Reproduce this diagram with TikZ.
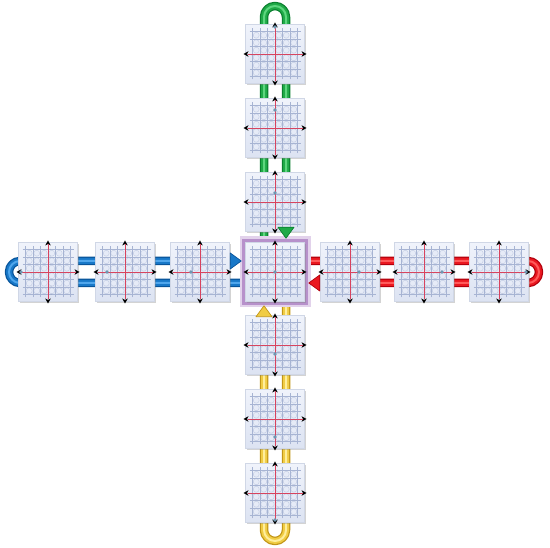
\documentclass[tikz,border=0pt]{standalone}
\usetikzlibrary{arrows.meta,calc,shadows}
\pgfdeclarelayer{bg}
\pgfsetlayers{bg,main}
\definecolor{tiletop}{HTML}{F0F3FB}
\definecolor{tilebot}{HTML}{DCE3F2}
\definecolor{tileedge}{HTML}{D0D7E6}
\definecolor{gridc}{HTML}{A7B4D3}
\definecolor{cellc}{HTML}{BCC7E0}
\definecolor{cellf}{HTML}{E6EBF7}
\definecolor{axisred}{HTML}{D8435E}
\definecolor{tickc}{HTML}{8C98B4}
\definecolor{ptc}{HTML}{6F97B2}
\definecolor{glowc}{HTML}{B791CB}
\definecolor{glowo}{HTML}{E2D2EB}
\definecolor{blueD}{HTML}{08549A}
\definecolor{blueM}{HTML}{1878C8}
\definecolor{blueL}{HTML}{4FA6EC}
\definecolor{redD}{HTML}{B2000C}
\definecolor{redM}{HTML}{EA1820}
\definecolor{redL}{HTML}{FF5A5A}
\definecolor{greenD}{HTML}{0B8030}
\definecolor{greenM}{HTML}{1FAA47}
\definecolor{greenL}{HTML}{5ED67F}
\definecolor{yelD}{HTML}{C29618}
\definecolor{yelM}{HTML}{F0CC44}
\definecolor{yelL}{HTML}{FFEE9C}
\tikzset{
  tilebox/.style={draw=tileedge, line width=0.5pt, minimum size=59pt, inner sep=0pt,
    top color=tiletop, bottom color=tilebot,
    drop shadow={opacity=0.35, shadow xshift=1.2pt, shadow yshift=-1.6pt}},
  gridl/.style={draw=gridc, line width=0.4pt},
  cellcirc/.style={draw=cellc, fill=cellf, line width=0.35pt},
  axisl/.style={draw=axisred, line width=0.75pt},
  axtip/.style={fill=black},
  ticklab/.style={text=tickc, font=\fontsize{2.2}{2.2}\selectfont, inner sep=0.5pt},
  pipebase/.style={line width=8.5pt, line cap=butt, line join=round},
  bluepipe/.style={pipebase, draw=blueD, postaction={draw=blueM, line width=6pt}, postaction={draw=blueL, line width=2pt}},
  redpipe/.style={pipebase, draw=redD, postaction={draw=redM, line width=6pt}, postaction={draw=redL, line width=2pt}},
  greenpipe/.style={pipebase, draw=greenD, postaction={draw=greenM, line width=6pt}, postaction={draw=greenL, line width=2pt}},
  yelpipe/.style={pipebase, draw=yelD, postaction={draw=yelM, line width=6pt}, postaction={draw=yelL, line width=2pt}},
  bluehead/.style={fill=blueM, draw=blueD, line width=0.7pt, line join=round},
  redhead/.style={fill=redM, draw=redD, line width=0.7pt, line join=round},
  greenhead/.style={fill=greenM, draw=greenD, line width=0.7pt, line join=round},
  yelhead/.style={fill=yelM, draw=yelD, line width=0.7pt, line join=round},
  pics/deco/.style args={#1/#2}{code={
    \foreach \i in {-18.75,-11.25,-3.75,3.75,11.25,18.75}{
      \foreach \j in {-18.75,-11.25,-3.75,3.75,11.25,18.75}{
        \draw[cellcirc] (\i,\j) circle[radius=3];
      }
    }
    \foreach \i in {-22.5,-15,-7.5,7.5,15,22.5}{
      \draw[gridl] (\i,-25.5) -- (\i,25.5);
      \draw[gridl] (-25.5,\i) -- (25.5,\i);
    }
    \foreach \a in {0,90,180,270}{
      \fill[axtip, rotate=\a] (31.5,0) -- (26.5,2.8) -- (28,0) -- (26.5,-2.8) -- cycle;
    }
  }},
  pics/ticks/.style={code={
    \foreach \i/\l in {-22.5/-3,-15/-2,-7.5/-1,7.5/1,15/2,22.5/3}{
      \node[ticklab, below] at (\i,-0.5) {\l};
      \node[ticklab, right] at (0.6,\i) {\l};
    }
  }}
}
\begin{document}
\begin{tikzpicture}[x=1pt,y=1pt]
\useasboundingbox (0,0) rectangle (550,548);
% center glow
\fill[glowo] (275,276) ++(-35.5,-35.5) rectangle ++(71,71);
\fill[glowc] (275,276) ++(-33,-33) rectangle ++(66,66);
% tiles
\node[tilebox] (c)  at (275,276) {};
\node[tilebox] (h1) at (48,276) {};
\node[tilebox] (h2) at (125,276) {};
\node[tilebox] (h3) at (200,276) {};
\node[tilebox] (h5) at (350,276) {};
\node[tilebox] (h6) at (424,276) {};
\node[tilebox] (h7) at (499,276) {};
\node[tilebox] (v1) at (275,494) {};
\node[tilebox] (v2) at (275,420) {};
\node[tilebox] (v3) at (275,346) {};
\node[tilebox] (v5) at (275,203) {};
\node[tilebox] (v6) at (275,129) {};
\node[tilebox] (v7) at (275,55) {};
% tile contents
\foreach \t in {c,h1,h2,h3,h5,h6,h7,v1,v2,v3,v5,v6,v7}{
  \pic at (\t) {deco={0/0}};
}
% axes (red), drawn in their own pass
\foreach \t in {c,h1,h2,h3,h5,h6,h7,v1,v2,v3,v5,v6,v7}{
  \draw[axisl] ($(\t.center)+(-27.5,0)$) -- ($(\t.center)+(27.5,0)$);
  \draw[axisl] ($(\t.center)+(0,-27.5)$) -- ($(\t.center)+(0,27.5)$);
}
% plotted points
\foreach \t/\dx/\dy in {c/0/0,h1/-27/0,h2/-18/0,h3/-9/0,h5/9/0,h6/18/0,h7/27/0,v1/0/27,v2/0/18,v3/0/9,v5/0/-9,v6/0/-18,v7/0/-27}{
  \fill[ptc] ($(\t.center)+(\dx,\dy)$) circle[radius=1.8];
}
% pipes
\begin{pgfonlayer}{bg}
\draw[bluepipe] ($(c.center)+(-20,-11)$) -- ($(h1.center)+(-28,-11)$) arc(270:90:11) -- ($(c.west)+(-14,11)$);
\draw[redpipe] ($(c.center)+(20,11)$) -- ($(h7.center)+(29,11)$) arc(90:-90:11) -- ($(c.east)+(14,-11)$);
\draw[greenpipe] ($(c.center)+(-11,20)$) -- ($(v1.center)+(-11,37)$) arc(180:0:11) -- ($(c.north)+(11,14)$);
\draw[yelpipe] ($(c.center)+(11,-20)$) -- ($(v7.center)+(11,-37)$) arc(0:-180:11) -- ($(c.south)+(-11,-14)$);
\end{pgfonlayer}
% arrow heads
\filldraw[bluehead] ($(c.west)+(-4,11)$) -- ++(-11,8) -- ++(0,-16) -- cycle;
\filldraw[redhead] ($(c.east)+(4,-11)$) -- ++(11,8) -- ++(0,-16) -- cycle;
\filldraw[greenhead] ($(c.north)+(11,4)$) -- ++(-8,11) -- ++(16,0) -- cycle;
\filldraw[yelhead] ($(c.south)+(-11,-4)$) -- ++(-8,-11) -- ++(16,0) -- cycle;
% tick labels last
\foreach \t in {c,h1,h2,h3,h5,h6,h7,v1,v2,v3,v5,v6,v7}{
  \pic at (\t) {ticks};
}
\end{tikzpicture}
\end{document}
